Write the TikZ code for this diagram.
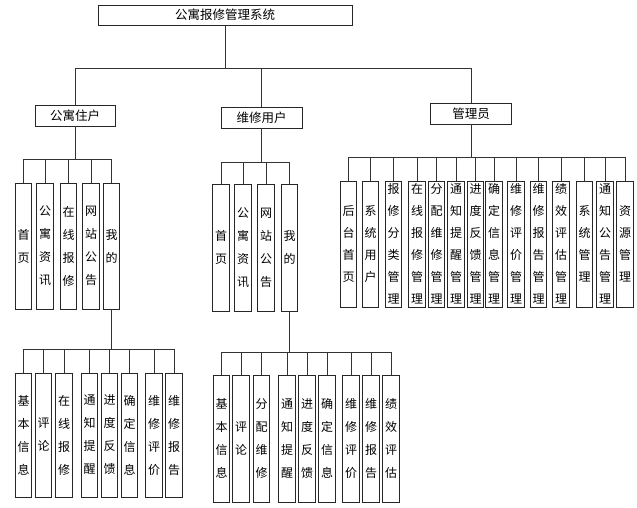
\documentclass[tikz,border=0pt]{standalone}
\usepackage{fontspec}
\newfontfamily\cjk{Noto Sans CJK SC}
\usepackage{tikz}
\usetikzlibrary{positioning, calc}

\tikzset{
  hbox/.style={draw=black!85, line width=0.8pt, inner sep=0pt, minimum height=21pt, font=\cjk\fontsize{12.5}{14}\selectfont},
  vbox/.style={draw=black!85, line width=0.8pt, inner sep=0pt, minimum width=16.5pt, align=center, font=\cjk\fontsize{12}{23}\selectfont},
  link/.style={draw=black!80, line width=0.8pt}
}

\begin{document}
\begin{tikzpicture}[x=1pt, y=-1pt]
\useasboundingbox (0,0) rectangle (637,507);

% top level
\node[hbox, minimum width=254pt, minimum height=20pt] (root) at (225,15) {公寓报修管理系统};
\node[hbox, minimum width=80pt] (resident) at (75,115.5) {公寓住户};
\node[hbox, minimum width=81pt] (repairer) at (261.5,117.5) {维修用户};
\node[hbox, minimum width=81pt] (admin) at (471,113.5) {管理员};

\coordinate (busTop) at (225,68);
\draw[link] (root.south) -- (busTop);
\draw[link] (busTop -| resident) -- (busTop -| admin);
\foreach \n in {resident, repairer, admin}
  \draw[link] (busTop -| \n) -- (\n.north);

% 公寓住户
\foreach \x/\t/\n in {23.5/{首\\页}/r1, 45/{公\\寓\\资\\讯}/r2, 68.5/{在\\线\\报\\修}/r3, 91/{网\\站\\公\\告}/r4, 111.5/{我\\的}/r5}
  \node[vbox, minimum height=126pt] (\n) at (\x,246) {\t};
\coordinate (busR) at (75,159);
\draw[link] (resident.south) -- (busR);
\draw[link] (busR -| r1) -- (busR -| r5);
\foreach \n in {r1,r2,r3,r4,r5}
  \draw[link] (busR -| \n) -- (\n.north);

\foreach \x/\t/\n in {23.5/{基\\本\\信\\息}/rm1, 43.5/{评\\论}/rm2, 64/{在\\线\\报\\修}/rm3, 89.5/{通\\知\\提\\醒}/rm4, 109.5/{进\\度\\反\\馈}/rm5, 129.5/{确\\定\\信\\息}/rm6, 154/{维\\修\\评\\价}/rm7, 174/{维\\修\\报\\告}/rm8}
  \node[vbox, minimum height=124pt] (\n) at (\x,435) {\t};
\coordinate (busRm) at (111.5,349);
\draw[link] (r5.south) -- (busRm);
\draw[link] (busRm -| rm1) -- (busRm -| rm8);
\foreach \n in {rm1,rm2,rm3,rm4,rm5,rm6,rm7,rm8}
  \draw[link] (busRm -| \n) -- (\n.north);

% 维修用户
\foreach \x/\t/\n in {221/{首\\页}/w1, 243/{公\\寓\\资\\讯}/w2, 266/{网\\站\\公\\告}/w3, 289.5/{我\\的}/w4}
  \node[vbox, minimum height=127pt] (\n) at (\x,247.5) {\t};
\coordinate (busW) at (261.5,162);
\draw[link] (repairer.south) -- (busW);
\draw[link] (busW -| w1) -- (busW -| w4);
\foreach \n in {w1,w2,w3,w4}
  \draw[link] (busW -| \n) -- (\n.north);

\foreach \x/\t/\n in {221.5/{基\\本\\信\\息}/wm1, 241/{评\\论}/wm2, 261.5/{分\\配\\维\\修}/wm3, 287/{通\\知\\提\\醒}/wm4, 307/{进\\度\\反\\馈}/wm5, 327/{确\\定\\信\\息}/wm6, 351/{维\\修\\评\\价}/wm7, 371/{维\\修\\报\\告}/wm8, 391/{绩\\效\\评\\估}/wm9}
  \node[vbox, minimum height=127pt] (\n) at (\x,438.5) {\t};
\coordinate (busWm) at (289.5,352);
\draw[link] (w4.south) -- (busWm);
\draw[link] (busWm -| wm1) -- (busWm -| wm9);
\foreach \n in {wm1,wm2,wm3,wm4,wm5,wm6,wm7,wm8,wm9}
  \draw[link] (busWm -| \n) -- (\n.north);

% 管理员
\foreach \x/\t/\n in {348.5/{后\\台\\首\\页}/a1, 370.5/{系\\统\\用\\户}/a2, 393.5/{报\\修\\分\\类\\管\\理}/a3, 417/{在\\线\\报\\修\\管\\理}/a4, 436.5/{分\\配\\维\\修\\管\\理}/a5, 456/{通\\知\\提\\醒\\管\\理}/a6, 475.5/{进\\度\\反\\馈\\管\\理}/a7, 494/{确\\定\\信\\息\\管\\理}/a8, 516/{维\\修\\评\\价\\管\\理}/a9, 538.5/{维\\修\\报\\告\\管\\理}/a10, 561/{绩\\效\\评\\估\\管\\理}/a11, 584.5/{系\\统\\管\\理}/a12, 605/{通\\知\\公\\告\\管\\理}/a13, 625/{资\\源\\管\\理}/a14}
  \node[vbox, minimum height=126pt, font=\cjk\fontsize{12}{22}\selectfont] (\n) at (\x,244) {\t};
\coordinate (busA) at (471,157);
\draw[link] (admin.south) -- (busA);
\draw[link] (busA -| a1) -- (busA -| a14);
\foreach \n in {a1,a2,a3,a4,a5,a6,a7,a8,a9,a10,a11,a12,a13,a14}
  \draw[link] (busA -| \n) -- (\n.north);
\end{tikzpicture}
\end{document}
